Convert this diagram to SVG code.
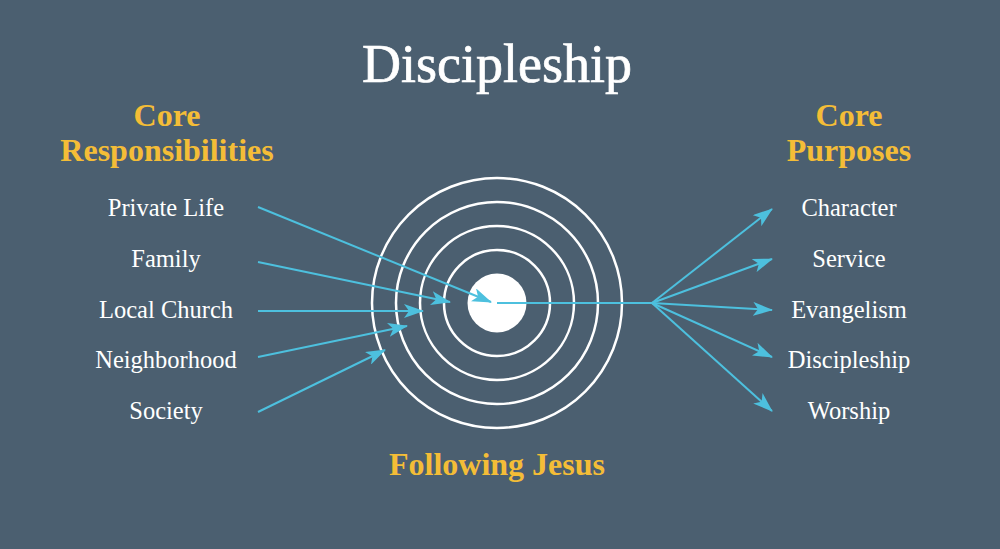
<svg xmlns="http://www.w3.org/2000/svg" width="1000" height="549" viewBox="0 0 1000 549">
<style>
.bg{fill:#4b5f70}
.title{font-family:"Liberation Serif",serif;font-size:54px;fill:#ffffff;stroke:#ffffff;stroke-width:0.7;text-anchor:middle}
.head{font-family:"Liberation Serif",serif;font-weight:bold;font-size:32px;fill:#f4bd37;text-anchor:middle}
.item{font-family:"Liberation Serif",serif;font-size:24.5px;fill:#ffffff;text-anchor:middle}
.ring{fill:none;stroke:#ffffff;stroke-width:2.5}
.conn{fill:none;stroke:#4dc0de;stroke-width:2}
</style>
<defs>
<marker id="ah" viewBox="0 0 20 14" refX="19" refY="7" markerWidth="20" markerHeight="14" markerUnits="userSpaceOnUse" orient="auto">
<path d="M0,0 L20,7 L0,14 L5,7 z" fill="#4dc0de"/>
</marker>
</defs>
<rect class="bg" x="0" y="0" width="1000" height="549"/>
<g id="title"><text class="title" x="497" y="82">Discipleship</text></g>
<g id="core-responsibilities"><text class="head" x="167" y="126">Core</text><text class="head" x="167" y="161">Responsibilities</text></g>
<g id="core-purposes"><text class="head" x="849" y="126">Core</text><text class="head" x="849" y="161">Purposes</text></g>
<g id="private-life"><text class="item" x="166" y="216">Private Life</text></g>
<g id="family"><text class="item" x="166" y="267">Family</text></g>
<g id="local-church"><text class="item" x="166" y="318">Local Church</text></g>
<g id="neighborhood"><text class="item" x="166" y="368">Neighborhood</text></g>
<g id="society"><text class="item" x="166" y="419">Society</text></g>
<g id="character"><text class="item" x="849" y="216">Character</text></g>
<g id="service"><text class="item" x="849" y="267">Service</text></g>
<g id="evangelism"><text class="item" x="849" y="318">Evangelism</text></g>
<g id="discipleship"><text class="item" x="849" y="368">Discipleship</text></g>
<g id="worship"><text class="item" x="849" y="419">Worship</text></g>
<g id="circles">
<circle class="ring" cx="497" cy="303" r="125"/>
<circle class="ring" cx="497" cy="303" r="101"/>
<circle class="ring" cx="497" cy="303" r="77"/>
<circle class="ring" cx="497" cy="303" r="53"/>
<circle cx="497" cy="303" r="29.5" fill="#ffffff"/>
</g>
<g id="following-jesus"><text class="head" x="497" y="475">Following Jesus</text></g>
<g id="connectors">
<line class="conn" x1="258" y1="207" x2="491" y2="302" marker-end="url(#ah)"/>
<line class="conn" x1="258" y1="262" x2="450" y2="302" marker-end="url(#ah)"/>
<line class="conn" x1="258" y1="311" x2="423" y2="311" marker-end="url(#ah)"/>
<line class="conn" x1="258" y1="357" x2="407" y2="326" marker-end="url(#ah)"/>
<line class="conn" x1="258" y1="412" x2="385" y2="350" marker-end="url(#ah)"/>
<line class="conn" x1="497" y1="303" x2="652" y2="303"/>
<line class="conn" x1="652" y1="303" x2="772" y2="209" marker-end="url(#ah)"/>
<line class="conn" x1="652" y1="303" x2="772" y2="259" marker-end="url(#ah)"/>
<line class="conn" x1="652" y1="303" x2="772" y2="310" marker-end="url(#ah)"/>
<line class="conn" x1="652" y1="303" x2="772" y2="357" marker-end="url(#ah)"/>
<line class="conn" x1="652" y1="303" x2="772" y2="411" marker-end="url(#ah)"/>
</g>
</svg>
